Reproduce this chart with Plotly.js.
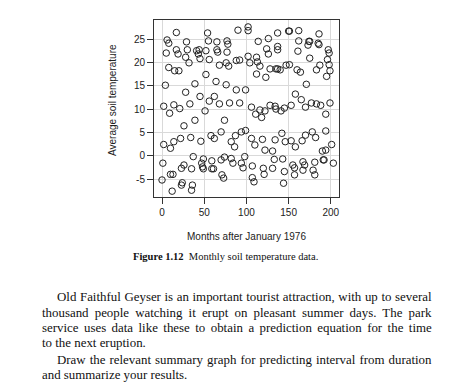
<!DOCTYPE html>
<html>
<head>
<meta charset="utf-8">
<script src="https://cdn.plot.ly/plotly-3.0.1.min.js"></script>
<style>
  html, body { margin: 0; padding: 0; background: #fff; }
  #chart { width: 474px; height: 392px; }
</style>
</head>
<body>
<div id="chart"></div>
<script>
// Months after January 1976
const monthsA = [17,54,6,8,29,55,5,17,19,30,41,44,43,52,28,45,56,32,8,15,20,52,4,39,28,45,62,2,14,21,33,56];
const tempsA  = [26.4,26.3,24.8,24.1,24.4,24.6,22.0,22.7,21.8,22.7,22.5,22.7,21.8,22.5,21.1,20.8,20.6,19.9,18.9,18.2,18.2,17.4,15.1,15.4,13.6,12.7,12.7,10.6,10.9,10.1,11.1,11.7];

const monthsB = [9,51,39,26,2,10,14,22,34,46,58,62,1,37,49,59,26,47,48,49,23,35,59,61,10,13,0,24,23,36,35,12];
const tempsB  = [9.1,9.6,7.6,6.4,2.4,1.6,3.0,3.7,3.9,3.1,4.3,3.7,-1.6,-0.2,-0.7,-1.1,-2.0,-1.6,-2.4,-2.8,-2.7,-2.8,-2.8,-2.8,-4.0,-4.0,-5.2,-5.8,-6.3,-6.3,-7.4,-7.6];

const monthsC = [90,102,102,65,65,66,77,78,77,114,126,124,126,137,137,102,112,88,92,76,79,68,104,113,116,128,135,112,123,64,76,88,99,68,80,92,106,128,134];
const tempsC  = [26.9,27.6,26.8,24.4,22.7,22.2,24.6,23.9,22.2,24.5,25.1,22.9,21.8,23.4,22.7,21.3,21.1,20.4,20.5,19.9,19.2,19.4,19.9,20.1,19.2,18.6,18.6,17.5,16.8,15.9,15.2,14.1,14.1,11.1,11.3,11.3,10.4,10.8,10.6];

const monthsD = [116,122,111,118,135,74,70,82,86,87,94,99,106,110,119,134,122,131,133,70,74,82,84,94,98,96,107,120,121,131,71,73,107,109];
const tempsD  = [9.8,9.6,8.9,8.2,10.0,7.6,5.1,3.0,1.9,4.3,5.1,5.4,3.7,2.3,3.5,3.4,1.2,1.0,-0.8,-0.9,-0.3,-0.6,-1.6,-1.6,-0.2,-2.6,-2.2,-2.7,-4.0,-2.7,-4.1,-4.8,-4.7,-5.6];

const monthsE = [150,151,162,186,137,162,174,175,173,185,186,161,197,198,175,196,198,147,151,137,140,160,164,183,187,199,195,171,158,165,177,183,188,199,153,170];
const tempsE  = [26.7,26.7,26.8,26.1,26.3,24.6,24.5,24.5,23.7,24.1,23.8,22.4,22.7,22.0,20.9,20.6,19.5,19.4,19.5,18.6,18.4,18.4,17.9,18.4,19.4,18.2,17.0,15.3,13.2,12.0,11.3,11.1,10.8,11.3,10.8,10.4];

const monthsF = [141,145,194,142,146,153,158,166,170,178,182,194,190,194,201,143,155,157,167,169,167,181,191,192,203,145,157,179,181,144];
const tempsF  = [9.6,10.2,8.9,4.8,3.0,3.2,1.9,3.2,4.4,5.1,3.9,5.3,1.0,1.2,2.4,-0.7,-2.0,-2.6,-1.3,-2.0,-3.1,-1.4,-0.9,-0.9,-1.6,-3.4,-4.1,-3.1,-4.1,-5.9];

const months = [].concat(monthsA, monthsB, monthsC, monthsD, monthsE, monthsF);
const temps  = [].concat(tempsA, tempsB, tempsC, tempsD, tempsE, tempsF);

const xTicks = [0, 50, 100, 150, 200];
const yTicks = [-5, 0, 5, 10, 15, 20, 25];

const xTitle = 'Months after January 1976';
const yTitle = 'Average soil temperature';
const caption = '<b>Figure 1.12</b>\u00a0\u00a0Monthly soil temperature data.';
const bodyLines = [
  'Old Faithful Geyser is an important tourist attraction, with up to several',
  'thousand people watching it erupt on pleasant summer days. The park',
  'service uses data like these to obtain a prediction equation for the time',
  'to the next eruption.',
  'Draw the relevant summary graph for predicting interval from duration',
  'and summarize your results.'
];
const bodyJustified = [true, true, true, false, true, false];

// layout geometry (pixels)
const W = 474, H = 392;
const L = 154, R = 339, T = 20, B = 197;
const px = x => (x - L) / (R - L);
const py = y => (B - y) / (B - T);

const serif = '"Liberation Serif", "Times New Roman", serif';
const sans = '"Liberation Sans", Arial, Helvetica, sans-serif';

const bodyX = [55, 40, 40, 40, 55, 40];
const bodyY = [297, 313, 328, 343, 360, 375];
const bodyRight = 430;

const annotations = [
  { text: xTitle, x: 0.5, y: py(237), xref: 'paper', yref: 'paper', showarrow: false,
    xanchor: 'center', yanchor: 'middle', font: { family: sans, size: 10, color: '#222' } },
  { text: yTitle, x: px(112), y: py(100), xref: 'paper', yref: 'paper', showarrow: false,
    textangle: -90, xanchor: 'center', yanchor: 'middle', font: { family: sans, size: 10, color: '#222' } },
  { text: caption, x: px(225), y: py(256), xref: 'paper', yref: 'paper', showarrow: false,
    xanchor: 'center', yanchor: 'middle', font: { family: serif, size: 10.5, color: '#111' } }
];
bodyLines.forEach((t, i) => {
  annotations.push({ text: t, x: px(bodyX[i]), y: py(bodyY[i]), xref: 'paper', yref: 'paper',
    showarrow: false, xanchor: 'left', yanchor: 'middle', align: 'left',
    font: { family: serif, size: 12.9, color: '#111' } });
});

const trace = {
  x: months, y: temps, type: 'scatter', mode: 'markers',
  marker: { symbol: 'circle-open', size: 6.5, color: '#222', line: { width: 1, color: '#222' } },
  hoverinfo: 'skip'
};

const axisCommon = {
  ticks: 'outside', ticklen: 6, tickwidth: 1, tickcolor: '#333',
  showgrid: true, gridcolor: '#d9d9d9', gridwidth: 1,
  showline: true, mirror: true, linecolor: '#333', linewidth: 1,
  zeroline: false, tickfont: { family: sans, size: 10, color: '#222' }
};

const layout = {
  width: W, height: H,
  margin: { l: L, r: W - R, t: T, b: H - B, pad: 0 },
  paper_bgcolor: '#fff', plot_bgcolor: '#fff', showlegend: false,
  font: { family: sans, size: 10, color: '#222' },
  xaxis: Object.assign({}, axisCommon, { range: [-9.5, 209.7], tickmode: 'array', tickvals: xTicks, ticktext: xTicks.map(String) }),
  yaxis: Object.assign({}, axisCommon, { range: [-8.85, 29.08], tickmode: 'array', tickvals: yTicks, ticktext: yTicks.map(String) }),
  annotations: annotations
};

Plotly.newPlot('chart', [trace], layout, { staticPlot: true, displayModeBar: false }).then(gd => {
  // justify body text lines by widening word spacing, keeping the left edge fixed
  const texts = gd.querySelectorAll('.annotation-text-g text.annotation-text');
  texts.forEach(el => {
    const content = el.textContent;
    const idx = bodyLines.indexOf(content);
    if (idx < 0 || !bodyJustified[idx]) return;
    const spaces = (content.match(/ /g) || []).length;
    if (!spaces) return;
    const before = el.getBBox();
    const target = bodyRight - bodyX[idx];
    const extra = (target - before.width) / spaces;
    if (extra <= 0) return;
    el.style.wordSpacing = extra.toFixed(2) + 'px';
    const after = el.getBBox();
    const shift = before.x - after.x;
    if (Math.abs(shift) > 0.1) {
      const cur = parseFloat(el.getAttribute('x') || '0');
      el.setAttribute('x', (cur + shift).toFixed(2));
    }
  });
});
</script>
</body>
</html>
